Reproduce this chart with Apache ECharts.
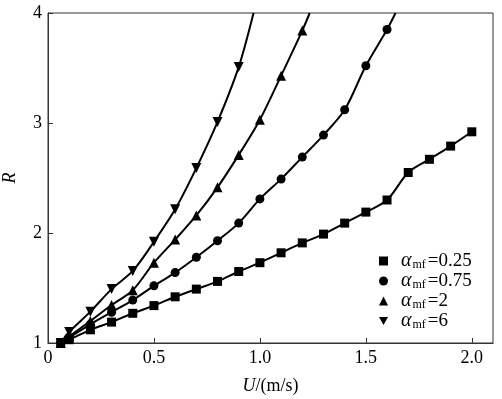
<!DOCTYPE html>
<html>
<head>
<meta charset="utf-8">
<script src="https://cdn.jsdelivr.net/npm/echarts@6/dist/echarts.min.js"></script>
<style>
  html, body { margin: 0; padding: 0; background: #fff; }
  #chart { width: 502px; height: 399px; }
</style>
</head>
<body>
<div id="chart"></div>
<script>
// 横坐标 U (m/s)
const uSquare = [0.06, 0.1, 0.2, 0.3, 0.4, 0.5, 0.6, 0.7, 0.8, 0.9, 1.0, 1.1, 1.2, 1.3, 1.4, 1.5, 1.6, 1.7, 1.8, 1.9, 2.0]
const rSquare = [1.0, 1.03, 1.12, 1.19, 1.27, 1.34, 1.42, 1.49, 1.56, 1.65, 1.73, 1.82, 1.91, 1.99, 2.09, 2.19, 2.30, 2.55, 2.67, 2.79, 2.92]

const uCircle = [0.06, 0.1, 0.2, 0.3, 0.4, 0.5, 0.6, 0.7, 0.8, 0.9, 1.0, 1.1, 1.2, 1.3, 1.4, 1.5, 1.6]
const rCircle = [1.0, 1.05, 1.17, 1.28, 1.39, 1.52, 1.64, 1.78, 1.93, 2.09, 2.31, 2.49, 2.69, 2.89, 3.12, 3.52, 3.85]

const uTri = [0.06, 0.1, 0.2, 0.3, 0.4, 0.5, 0.6, 0.7, 0.8, 0.9, 1.0, 1.1, 1.2]
const rTri = [1.0, 1.06, 1.20, 1.345, 1.48, 1.73, 1.94, 2.16, 2.415, 2.71, 3.03, 3.43, 3.84]

const uInv = [0.06, 0.1, 0.2, 0.3, 0.4, 0.5, 0.6, 0.7, 0.8, 0.9]
const rInv = [1.0, 1.10, 1.285, 1.49, 1.655, 1.92, 2.215, 2.59, 3.01, 3.51]

// 曲线与上边框的交点 (无标记)
const exitU = [2.0, 1.64, 1.235, 0.97]
const exitR = [null, 4.0, 4.0, 4.0]

const alphaLabels = ['0.25', '0.75', '2', '6']
const xTicks = [0, 0.5, 1.0, 1.5, 2.0]
const yTicks = [1, 2, 3, 4]

const invTriPath = 'path://M0,0 L10,0 L5,8.66 Z'
const serif = '"Liberation Serif", "Times New Roman", serif'

function buildData(us, rs, idx) {
  const d = us.map((u, i) => [u, rs[i]])
  if (exitR[idx] !== null) {
    d.push({ value: [exitU[idx], exitR[idx]], symbol: 'none' })
  }
  return d
}

const seriesDefs = [
  { us: uSquare, rs: rSquare, symbol: 'rect', size: 9 },
  { us: uCircle, rs: rCircle, symbol: 'circle', size: 9 },
  { us: uTri, rs: rTri, symbol: 'triangle', size: 10 },
  { us: uInv, rs: rInv, symbol: invTriPath, size: 10 }
]

const chart = echarts.init(document.getElementById('chart'))

const option = {
  animation: false,
  backgroundColor: '#fff',
  grid: {
    left: 48, right: 9, top: 13, bottom: 56,
    outerBoundsMode: 'none',
    containLabel: false,
    show: true, borderColor: '#333', borderWidth: 1
  },
  legend: {
    orient: 'vertical',
    left: 374,
    top: 246,
    itemWidth: 9,
    itemHeight: 9,
    itemGap: 0,
    data: alphaLabels.map((a, i) => ({
      name: 'α_mf=' + a,
      icon: i === 3 ? invTriPath : seriesDefs[i].symbol,
      itemStyle: { color: '#000' }
    })),
    formatter: name => '{a|α}{s|mf}{b|=' + name.split('=')[1] + '}',
    textStyle: {
      fontFamily: serif,
      color: '#000',
      rich: {
        a: { fontFamily: serif, fontStyle: 'italic', fontSize: 20, lineHeight: 20, padding: [0, 1, 0, 8], verticalAlign: 'bottom' },
        s: { fontFamily: serif, fontSize: 12, lineHeight: 13, padding: [0, 2, 0, 0], verticalAlign: 'bottom' },
        b: { fontFamily: serif, fontSize: 19, lineHeight: 20, verticalAlign: 'bottom' }
      }
    }
  },
  xAxis: {
    type: 'value',
    min: 0,
    max: 2.1,
    interval: 0.5,
    name: '{i|U}/(m/s)',
    nameLocation: 'middle',
    nameGap: 34,
    nameTextStyle: {
      fontFamily: serif, fontSize: 18, color: '#000',
      rich: { i: { fontFamily: serif, fontStyle: 'italic', fontSize: 18 } }
    },
    axisLine: { lineStyle: { color: '#333', width: 1 } },
    axisTick: { inside: true, length: 5, customValues: xTicks, lineStyle: { color: '#333' } },
    axisLabel: {
      customValues: xTicks,
      formatter: v => (v === 0 ? '0' : v.toFixed(1)),
      fontFamily: serif, fontSize: 18, color: '#000', margin: 6
    },
    splitLine: { show: false }
  },
  yAxis: {
    type: 'value',
    min: 1,
    max: 4,
    interval: 1,
    name: 'R',
    nameLocation: 'middle',
    nameRotate: 90,
    nameGap: 29,
    nameTextStyle: { fontFamily: serif, fontStyle: 'italic', fontSize: 18, color: '#000' },
    axisLine: { show: true, lineStyle: { color: '#333', width: 1 } },
    axisTick: { show: true, inside: true, length: 5, customValues: yTicks, lineStyle: { color: '#333' } },
    axisLabel: {
      customValues: yTicks,
      fontFamily: serif, fontSize: 18, color: '#000', margin: 6
    },
    splitLine: { show: false }
  },
  series: seriesDefs.map((s, i) => ({
    name: 'α_mf=' + alphaLabels[i],
    type: 'line',
    data: buildData(s.us, s.rs, i),
    symbol: s.symbol,
    symbolSize: s.size,
    smooth: 0.3,
    clip: true,
    lineStyle: { color: '#000', width: 2 },
    itemStyle: { color: '#000' }
  }))
}

chart.setOption(option)
</script>
</body>
</html>
